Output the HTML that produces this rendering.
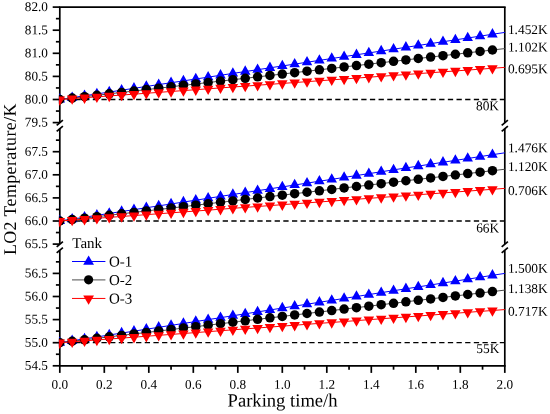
<!DOCTYPE html>
<html><head><meta charset="utf-8"><title>LO2 Temperature vs Parking time</title>
<style>html,body{margin:0;padding:0;background:#fff}body{width:550px;height:414px;overflow:hidden}</style></head>
<body>
<svg width="550" height="414" viewBox="0 0 550 414" style="display:block;text-rendering:geometricPrecision">
<rect width="550" height="414" fill="#fff"/>
<defs><clipPath id="plot"><rect x="58.90" y="0" width="446.80" height="414"/></clipPath></defs>
<g stroke="#000" stroke-width="1.7" fill="none">
<line x1="58.95" y1="7.1" x2="505.65" y2="7.1"/>
<line x1="58.95" y1="365.80" x2="505.65" y2="365.80"/>
<line x1="59.80" y1="7.10" x2="59.80" y2="122.60"/>
<line x1="504.80" y1="7.10" x2="504.80" y2="122.60"/>
<line x1="52.70" y1="7.10" x2="59.80" y2="7.10"/>
<line x1="55.90" y1="18.65" x2="59.80" y2="18.65"/>
<line x1="52.70" y1="30.20" x2="59.80" y2="30.20"/>
<line x1="55.90" y1="41.75" x2="59.80" y2="41.75"/>
<line x1="52.70" y1="53.30" x2="59.80" y2="53.30"/>
<line x1="55.90" y1="64.85" x2="59.80" y2="64.85"/>
<line x1="52.70" y1="76.40" x2="59.80" y2="76.40"/>
<line x1="55.90" y1="87.95" x2="59.80" y2="87.95"/>
<line x1="52.70" y1="99.50" x2="59.80" y2="99.50"/>
<line x1="55.90" y1="111.05" x2="59.80" y2="111.05"/>
<line x1="52.70" y1="122.60" x2="59.80" y2="122.60"/>
<line x1="59.80" y1="128.60" x2="59.80" y2="244.10"/>
<line x1="504.80" y1="128.60" x2="504.80" y2="244.10"/>
<line x1="55.90" y1="140.15" x2="59.80" y2="140.15"/>
<line x1="52.70" y1="151.70" x2="59.80" y2="151.70"/>
<line x1="55.90" y1="163.25" x2="59.80" y2="163.25"/>
<line x1="52.70" y1="174.80" x2="59.80" y2="174.80"/>
<line x1="55.90" y1="186.35" x2="59.80" y2="186.35"/>
<line x1="52.70" y1="197.90" x2="59.80" y2="197.90"/>
<line x1="55.90" y1="209.45" x2="59.80" y2="209.45"/>
<line x1="52.70" y1="221.00" x2="59.80" y2="221.00"/>
<line x1="55.90" y1="232.55" x2="59.80" y2="232.55"/>
<line x1="52.70" y1="244.10" x2="59.80" y2="244.10"/>
<line x1="59.80" y1="250.30" x2="59.80" y2="365.80"/>
<line x1="504.80" y1="250.30" x2="504.80" y2="365.80"/>
<line x1="55.90" y1="261.85" x2="59.80" y2="261.85"/>
<line x1="52.70" y1="273.40" x2="59.80" y2="273.40"/>
<line x1="55.90" y1="284.95" x2="59.80" y2="284.95"/>
<line x1="52.70" y1="296.50" x2="59.80" y2="296.50"/>
<line x1="55.90" y1="308.05" x2="59.80" y2="308.05"/>
<line x1="52.70" y1="319.60" x2="59.80" y2="319.60"/>
<line x1="55.90" y1="331.15" x2="59.80" y2="331.15"/>
<line x1="52.70" y1="342.70" x2="59.80" y2="342.70"/>
<line x1="55.90" y1="354.25" x2="59.80" y2="354.25"/>
<line x1="52.70" y1="365.80" x2="59.80" y2="365.80"/>
<line x1="56.70" y1="125.30" x2="62.90" y2="120.10"/>
<line x1="56.70" y1="131.40" x2="62.90" y2="126.20"/>
<line x1="501.70" y1="125.30" x2="507.90" y2="120.10"/>
<line x1="501.70" y1="131.40" x2="507.90" y2="126.20"/>
<line x1="56.70" y1="246.80" x2="62.90" y2="241.60"/>
<line x1="56.70" y1="252.90" x2="62.90" y2="247.70"/>
<line x1="501.70" y1="246.80" x2="507.90" y2="241.60"/>
<line x1="501.70" y1="252.90" x2="507.90" y2="247.70"/>
<line x1="59.80" y1="365.80" x2="59.80" y2="372.90"/>
<line x1="82.05" y1="365.80" x2="82.05" y2="369.70"/>
<line x1="104.30" y1="365.80" x2="104.30" y2="372.90"/>
<line x1="126.55" y1="365.80" x2="126.55" y2="369.70"/>
<line x1="148.80" y1="365.80" x2="148.80" y2="372.90"/>
<line x1="171.05" y1="365.80" x2="171.05" y2="369.70"/>
<line x1="193.30" y1="365.80" x2="193.30" y2="372.90"/>
<line x1="215.55" y1="365.80" x2="215.55" y2="369.70"/>
<line x1="237.80" y1="365.80" x2="237.80" y2="372.90"/>
<line x1="260.05" y1="365.80" x2="260.05" y2="369.70"/>
<line x1="282.30" y1="365.80" x2="282.30" y2="372.90"/>
<line x1="304.55" y1="365.80" x2="304.55" y2="369.70"/>
<line x1="326.80" y1="365.80" x2="326.80" y2="372.90"/>
<line x1="349.05" y1="365.80" x2="349.05" y2="369.70"/>
<line x1="371.30" y1="365.80" x2="371.30" y2="372.90"/>
<line x1="393.55" y1="365.80" x2="393.55" y2="369.70"/>
<line x1="415.80" y1="365.80" x2="415.80" y2="372.90"/>
<line x1="438.05" y1="365.80" x2="438.05" y2="369.70"/>
<line x1="460.30" y1="365.80" x2="460.30" y2="372.90"/>
<line x1="482.55" y1="365.80" x2="482.55" y2="369.70"/>
<line x1="504.80" y1="365.80" x2="504.80" y2="372.90"/>
</g>
<g clip-path="url(#plot)">
<line x1="59.8" y1="99.50" x2="504.8" y2="99.50" stroke="#000" stroke-width="1.3" stroke-dasharray="5.3 3.36" stroke-dashoffset="1.66"/>
<line x1="59.8" y1="99.50" x2="504.8" y2="32.42" stroke="#0000ff" stroke-width="1"/>
<path d="M59.80 93.30L65.05 102.60L54.55 102.60ZM72.16 91.44L77.41 100.74L66.91 100.74ZM84.52 89.57L89.77 98.87L79.27 98.87ZM96.88 87.71L102.13 97.01L91.63 97.01ZM109.24 85.85L114.49 95.15L103.99 95.15ZM121.61 83.98L126.86 93.28L116.36 93.28ZM133.97 82.12L139.22 91.42L128.72 91.42ZM146.33 80.26L151.58 89.56L141.08 89.56ZM158.69 78.39L163.94 87.69L153.44 87.69ZM171.05 76.53L176.30 85.83L165.80 85.83ZM183.41 74.67L188.66 83.97L178.16 83.97ZM195.77 72.80L201.02 82.10L190.52 82.10ZM208.13 70.94L213.38 80.24L202.88 80.24ZM220.49 69.08L225.74 78.38L215.24 78.38ZM232.86 67.21L238.11 76.51L227.61 76.51ZM245.22 65.35L250.47 74.65L239.97 74.65ZM257.58 63.49L262.83 72.79L252.33 72.79ZM269.94 61.62L275.19 70.92L264.69 70.92ZM282.30 59.76L287.55 69.06L277.05 69.06ZM294.66 57.90L299.91 67.20L289.41 67.20ZM307.02 56.03L312.27 65.33L301.77 65.33ZM319.38 54.17L324.63 63.47L314.13 63.47ZM331.74 52.31L336.99 61.61L326.49 61.61ZM344.11 50.44L349.36 59.74L338.86 59.74ZM356.47 48.58L361.72 57.88L351.22 57.88ZM368.83 46.71L374.08 56.01L363.58 56.01ZM381.19 44.85L386.44 54.15L375.94 54.15ZM393.55 42.99L398.80 52.29L388.30 52.29ZM405.91 41.12L411.16 50.42L400.66 50.42ZM418.27 39.26L423.52 48.56L413.02 48.56ZM430.63 37.40L435.88 46.70L425.38 46.70ZM442.99 35.53L448.24 44.83L437.74 44.83ZM455.36 33.67L460.61 42.97L450.11 42.97ZM467.72 31.81L472.97 41.11L462.47 41.11ZM480.08 29.94L485.33 39.24L474.83 39.24ZM492.44 28.08L497.69 37.38L487.19 37.38Z" fill="#0000ff"/>
<line x1="59.8" y1="99.50" x2="504.8" y2="48.59" stroke="#4a4a4a" stroke-width="1"/>
<circle cx="59.80" cy="99.50" r="4.75" fill="#000"/>
<circle cx="72.16" cy="98.09" r="4.75" fill="#000"/>
<circle cx="84.52" cy="96.67" r="4.75" fill="#000"/>
<circle cx="96.88" cy="95.26" r="4.75" fill="#000"/>
<circle cx="109.24" cy="93.84" r="4.75" fill="#000"/>
<circle cx="121.61" cy="92.43" r="4.75" fill="#000"/>
<circle cx="133.97" cy="91.01" r="4.75" fill="#000"/>
<circle cx="146.33" cy="89.60" r="4.75" fill="#000"/>
<circle cx="158.69" cy="88.19" r="4.75" fill="#000"/>
<circle cx="171.05" cy="86.77" r="4.75" fill="#000"/>
<circle cx="183.41" cy="85.36" r="4.75" fill="#000"/>
<circle cx="195.77" cy="83.94" r="4.75" fill="#000"/>
<circle cx="208.13" cy="82.53" r="4.75" fill="#000"/>
<circle cx="220.49" cy="81.11" r="4.75" fill="#000"/>
<circle cx="232.86" cy="79.70" r="4.75" fill="#000"/>
<circle cx="245.22" cy="78.29" r="4.75" fill="#000"/>
<circle cx="257.58" cy="76.87" r="4.75" fill="#000"/>
<circle cx="269.94" cy="75.46" r="4.75" fill="#000"/>
<circle cx="282.30" cy="74.04" r="4.75" fill="#000"/>
<circle cx="294.66" cy="72.63" r="4.75" fill="#000"/>
<circle cx="307.02" cy="71.22" r="4.75" fill="#000"/>
<circle cx="319.38" cy="69.80" r="4.75" fill="#000"/>
<circle cx="331.74" cy="68.39" r="4.75" fill="#000"/>
<circle cx="344.11" cy="66.97" r="4.75" fill="#000"/>
<circle cx="356.47" cy="65.56" r="4.75" fill="#000"/>
<circle cx="368.83" cy="64.14" r="4.75" fill="#000"/>
<circle cx="381.19" cy="62.73" r="4.75" fill="#000"/>
<circle cx="393.55" cy="61.32" r="4.75" fill="#000"/>
<circle cx="405.91" cy="59.90" r="4.75" fill="#000"/>
<circle cx="418.27" cy="58.49" r="4.75" fill="#000"/>
<circle cx="430.63" cy="57.07" r="4.75" fill="#000"/>
<circle cx="442.99" cy="55.66" r="4.75" fill="#000"/>
<circle cx="455.36" cy="54.24" r="4.75" fill="#000"/>
<circle cx="467.72" cy="52.83" r="4.75" fill="#000"/>
<circle cx="480.08" cy="51.42" r="4.75" fill="#000"/>
<circle cx="492.44" cy="50.00" r="4.75" fill="#000"/>
<line x1="59.8" y1="99.50" x2="504.8" y2="67.39" stroke="#ff0000" stroke-width="1"/>
<path d="M59.80 105.70L65.05 96.40L54.55 96.40ZM72.16 104.81L77.41 95.51L66.91 95.51ZM84.52 103.92L89.77 94.62L79.27 94.62ZM96.88 103.02L102.13 93.72L91.63 93.72ZM109.24 102.13L114.49 92.83L103.99 92.83ZM121.61 101.24L126.86 91.94L116.36 91.94ZM133.97 100.35L139.22 91.05L128.72 91.05ZM146.33 99.46L151.58 90.16L141.08 90.16ZM158.69 98.56L163.94 89.26L153.44 89.26ZM171.05 97.67L176.30 88.37L165.80 88.37ZM183.41 96.78L188.66 87.48L178.16 87.48ZM195.77 95.89L201.02 86.59L190.52 86.59ZM208.13 95.00L213.38 85.70L202.88 85.70ZM220.49 94.11L225.74 84.81L215.24 84.81ZM232.86 93.21L238.11 83.91L227.61 83.91ZM245.22 92.32L250.47 83.02L239.97 83.02ZM257.58 91.43L262.83 82.13L252.33 82.13ZM269.94 90.54L275.19 81.24L264.69 81.24ZM282.30 89.65L287.55 80.35L277.05 80.35ZM294.66 88.75L299.91 79.45L289.41 79.45ZM307.02 87.86L312.27 78.56L301.77 78.56ZM319.38 86.97L324.63 77.67L314.13 77.67ZM331.74 86.08L336.99 76.78L326.49 76.78ZM344.11 85.19L349.36 75.89L338.86 75.89ZM356.47 84.29L361.72 74.99L351.22 74.99ZM368.83 83.40L374.08 74.10L363.58 74.10ZM381.19 82.51L386.44 73.21L375.94 73.21ZM393.55 81.62L398.80 72.32L388.30 72.32ZM405.91 80.73L411.16 71.43L400.66 71.43ZM418.27 79.83L423.52 70.53L413.02 70.53ZM430.63 78.94L435.88 69.64L425.38 69.64ZM442.99 78.05L448.24 68.75L437.74 68.75ZM455.36 77.16L460.61 67.86L450.11 67.86ZM467.72 76.27L472.97 66.97L462.47 66.97ZM480.08 75.37L485.33 66.07L474.83 66.07ZM492.44 74.48L497.69 65.18L487.19 65.18Z" fill="#ff0000"/>
<line x1="59.8" y1="221.00" x2="504.8" y2="221.00" stroke="#000" stroke-width="1.55" stroke-dasharray="5.3 3.36" stroke-dashoffset="1.66"/>
<line x1="59.8" y1="221.00" x2="504.8" y2="152.81" stroke="#0000ff" stroke-width="1"/>
<path d="M59.80 214.80L65.05 224.10L54.55 224.10ZM72.16 212.91L77.41 222.21L66.91 222.21ZM84.52 211.01L89.77 220.31L79.27 220.31ZM96.88 209.12L102.13 218.42L91.63 218.42ZM109.24 207.22L114.49 216.52L103.99 216.52ZM121.61 205.33L126.86 214.63L116.36 214.63ZM133.97 203.43L139.22 212.73L128.72 212.73ZM146.33 201.54L151.58 210.84L141.08 210.84ZM158.69 199.65L163.94 208.95L153.44 208.95ZM171.05 197.75L176.30 207.05L165.80 207.05ZM183.41 195.86L188.66 205.16L178.16 205.16ZM195.77 193.96L201.02 203.26L190.52 203.26ZM208.13 192.07L213.38 201.37L202.88 201.37ZM220.49 190.18L225.74 199.48L215.24 199.48ZM232.86 188.28L238.11 197.58L227.61 197.58ZM245.22 186.39L250.47 195.69L239.97 195.69ZM257.58 184.49L262.83 193.79L252.33 193.79ZM269.94 182.60L275.19 191.90L264.69 191.90ZM282.30 180.70L287.55 190.00L277.05 190.00ZM294.66 178.81L299.91 188.11L289.41 188.11ZM307.02 176.92L312.27 186.22L301.77 186.22ZM319.38 175.02L324.63 184.32L314.13 184.32ZM331.74 173.13L336.99 182.43L326.49 182.43ZM344.11 171.23L349.36 180.53L338.86 180.53ZM356.47 169.34L361.72 178.64L351.22 178.64ZM368.83 167.44L374.08 176.74L363.58 176.74ZM381.19 165.55L386.44 174.85L375.94 174.85ZM393.55 163.66L398.80 172.96L388.30 172.96ZM405.91 161.76L411.16 171.06L400.66 171.06ZM418.27 159.87L423.52 169.17L413.02 169.17ZM430.63 157.97L435.88 167.27L425.38 167.27ZM442.99 156.08L448.24 165.38L437.74 165.38ZM455.36 154.19L460.61 163.49L450.11 163.49ZM467.72 152.29L472.97 161.59L462.47 161.59ZM480.08 150.40L485.33 159.70L474.83 159.70ZM492.44 148.50L497.69 157.80L487.19 157.80Z" fill="#0000ff"/>
<line x1="59.8" y1="221.00" x2="504.8" y2="169.26" stroke="#4a4a4a" stroke-width="1"/>
<circle cx="59.80" cy="221.00" r="4.75" fill="#000"/>
<circle cx="72.16" cy="219.56" r="4.75" fill="#000"/>
<circle cx="84.52" cy="218.13" r="4.75" fill="#000"/>
<circle cx="96.88" cy="216.69" r="4.75" fill="#000"/>
<circle cx="109.24" cy="215.25" r="4.75" fill="#000"/>
<circle cx="121.61" cy="213.81" r="4.75" fill="#000"/>
<circle cx="133.97" cy="212.38" r="4.75" fill="#000"/>
<circle cx="146.33" cy="210.94" r="4.75" fill="#000"/>
<circle cx="158.69" cy="209.50" r="4.75" fill="#000"/>
<circle cx="171.05" cy="208.06" r="4.75" fill="#000"/>
<circle cx="183.41" cy="206.63" r="4.75" fill="#000"/>
<circle cx="195.77" cy="205.19" r="4.75" fill="#000"/>
<circle cx="208.13" cy="203.75" r="4.75" fill="#000"/>
<circle cx="220.49" cy="202.31" r="4.75" fill="#000"/>
<circle cx="232.86" cy="200.88" r="4.75" fill="#000"/>
<circle cx="245.22" cy="199.44" r="4.75" fill="#000"/>
<circle cx="257.58" cy="198.00" r="4.75" fill="#000"/>
<circle cx="269.94" cy="196.57" r="4.75" fill="#000"/>
<circle cx="282.30" cy="195.13" r="4.75" fill="#000"/>
<circle cx="294.66" cy="193.69" r="4.75" fill="#000"/>
<circle cx="307.02" cy="192.25" r="4.75" fill="#000"/>
<circle cx="319.38" cy="190.82" r="4.75" fill="#000"/>
<circle cx="331.74" cy="189.38" r="4.75" fill="#000"/>
<circle cx="344.11" cy="187.94" r="4.75" fill="#000"/>
<circle cx="356.47" cy="186.50" r="4.75" fill="#000"/>
<circle cx="368.83" cy="185.07" r="4.75" fill="#000"/>
<circle cx="381.19" cy="183.63" r="4.75" fill="#000"/>
<circle cx="393.55" cy="182.19" r="4.75" fill="#000"/>
<circle cx="405.91" cy="180.75" r="4.75" fill="#000"/>
<circle cx="418.27" cy="179.32" r="4.75" fill="#000"/>
<circle cx="430.63" cy="177.88" r="4.75" fill="#000"/>
<circle cx="442.99" cy="176.44" r="4.75" fill="#000"/>
<circle cx="455.36" cy="175.01" r="4.75" fill="#000"/>
<circle cx="467.72" cy="173.57" r="4.75" fill="#000"/>
<circle cx="480.08" cy="172.13" r="4.75" fill="#000"/>
<circle cx="492.44" cy="170.69" r="4.75" fill="#000"/>
<line x1="59.8" y1="221.00" x2="504.8" y2="188.38" stroke="#ff0000" stroke-width="1"/>
<path d="M59.80 227.20L65.05 217.90L54.55 217.90ZM72.16 226.29L77.41 216.99L66.91 216.99ZM84.52 225.39L89.77 216.09L79.27 216.09ZM96.88 224.48L102.13 215.18L91.63 215.18ZM109.24 223.58L114.49 214.28L103.99 214.28ZM121.61 222.67L126.86 213.37L116.36 213.37ZM133.97 221.76L139.22 212.46L128.72 212.46ZM146.33 220.86L151.58 211.56L141.08 211.56ZM158.69 219.95L163.94 210.65L153.44 210.65ZM171.05 219.05L176.30 209.75L165.80 209.75ZM183.41 218.14L188.66 208.84L178.16 208.84ZM195.77 217.23L201.02 207.93L190.52 207.93ZM208.13 216.33L213.38 207.03L202.88 207.03ZM220.49 215.42L225.74 206.12L215.24 206.12ZM232.86 214.52L238.11 205.22L227.61 205.22ZM245.22 213.61L250.47 204.31L239.97 204.31ZM257.58 212.70L262.83 203.40L252.33 203.40ZM269.94 211.80L275.19 202.50L264.69 202.50ZM282.30 210.89L287.55 201.59L277.05 201.59ZM294.66 209.99L299.91 200.69L289.41 200.69ZM307.02 209.08L312.27 199.78L301.77 199.78ZM319.38 208.17L324.63 198.87L314.13 198.87ZM331.74 207.27L336.99 197.97L326.49 197.97ZM344.11 206.36L349.36 197.06L338.86 197.06ZM356.47 205.46L361.72 196.16L351.22 196.16ZM368.83 204.55L374.08 195.25L363.58 195.25ZM381.19 203.64L386.44 194.34L375.94 194.34ZM393.55 202.74L398.80 193.44L388.30 193.44ZM405.91 201.83L411.16 192.53L400.66 192.53ZM418.27 200.93L423.52 191.63L413.02 191.63ZM430.63 200.02L435.88 190.72L425.38 190.72ZM442.99 199.11L448.24 189.81L437.74 189.81ZM455.36 198.21L460.61 188.91L450.11 188.91ZM467.72 197.30L472.97 188.00L462.47 188.00ZM480.08 196.39L485.33 187.09L474.83 187.09ZM492.44 195.49L497.69 186.19L487.19 186.19Z" fill="#ff0000"/>
<line x1="59.8" y1="342.70" x2="504.8" y2="342.70" stroke="#000" stroke-width="1.25" stroke-dasharray="5.3 3.36" stroke-dashoffset="1.66"/>
<line x1="59.8" y1="342.70" x2="504.8" y2="273.40" stroke="#0000ff" stroke-width="1"/>
<path d="M59.80 336.50L65.05 345.80L54.55 345.80ZM72.16 334.58L77.41 343.88L66.91 343.88ZM84.52 332.65L89.77 341.95L79.27 341.95ZM96.88 330.73L102.13 340.03L91.63 340.03ZM109.24 328.80L114.49 338.10L103.99 338.10ZM121.61 326.87L126.86 336.17L116.36 336.17ZM133.97 324.95L139.22 334.25L128.72 334.25ZM146.33 323.03L151.58 332.33L141.08 332.33ZM158.69 321.10L163.94 330.40L153.44 330.40ZM171.05 319.18L176.30 328.48L165.80 328.48ZM183.41 317.25L188.66 326.55L178.16 326.55ZM195.77 315.32L201.02 324.62L190.52 324.62ZM208.13 313.40L213.38 322.70L202.88 322.70ZM220.49 311.48L225.74 320.78L215.24 320.78ZM232.86 309.55L238.11 318.85L227.61 318.85ZM245.22 307.63L250.47 316.93L239.97 316.93ZM257.58 305.70L262.83 315.00L252.33 315.00ZM269.94 303.77L275.19 313.07L264.69 313.07ZM282.30 301.85L287.55 311.15L277.05 311.15ZM294.66 299.93L299.91 309.23L289.41 309.23ZM307.02 298.00L312.27 307.30L301.77 307.30ZM319.38 296.08L324.63 305.38L314.13 305.38ZM331.74 294.15L336.99 303.45L326.49 303.45ZM344.11 292.22L349.36 301.52L338.86 301.52ZM356.47 290.30L361.72 299.60L351.22 299.60ZM368.83 288.38L374.08 297.68L363.58 297.68ZM381.19 286.45L386.44 295.75L375.94 295.75ZM393.55 284.53L398.80 293.83L388.30 293.83ZM405.91 282.60L411.16 291.90L400.66 291.90ZM418.27 280.67L423.52 289.97L413.02 289.97ZM430.63 278.75L435.88 288.05L425.38 288.05ZM442.99 276.83L448.24 286.13L437.74 286.13ZM455.36 274.90L460.61 284.20L450.11 284.20ZM467.72 272.98L472.97 282.28L462.47 282.28ZM480.08 271.05L485.33 280.35L474.83 280.35ZM492.44 269.12L497.69 278.42L487.19 278.42Z" fill="#0000ff"/>
<line x1="59.8" y1="342.70" x2="504.8" y2="290.12" stroke="#4a4a4a" stroke-width="1"/>
<circle cx="59.80" cy="342.70" r="4.75" fill="#000"/>
<circle cx="72.16" cy="341.24" r="4.75" fill="#000"/>
<circle cx="84.52" cy="339.78" r="4.75" fill="#000"/>
<circle cx="96.88" cy="338.32" r="4.75" fill="#000"/>
<circle cx="109.24" cy="336.86" r="4.75" fill="#000"/>
<circle cx="121.61" cy="335.40" r="4.75" fill="#000"/>
<circle cx="133.97" cy="333.94" r="4.75" fill="#000"/>
<circle cx="146.33" cy="332.48" r="4.75" fill="#000"/>
<circle cx="158.69" cy="331.02" r="4.75" fill="#000"/>
<circle cx="171.05" cy="329.56" r="4.75" fill="#000"/>
<circle cx="183.41" cy="328.10" r="4.75" fill="#000"/>
<circle cx="195.77" cy="326.64" r="4.75" fill="#000"/>
<circle cx="208.13" cy="325.17" r="4.75" fill="#000"/>
<circle cx="220.49" cy="323.71" r="4.75" fill="#000"/>
<circle cx="232.86" cy="322.25" r="4.75" fill="#000"/>
<circle cx="245.22" cy="320.79" r="4.75" fill="#000"/>
<circle cx="257.58" cy="319.33" r="4.75" fill="#000"/>
<circle cx="269.94" cy="317.87" r="4.75" fill="#000"/>
<circle cx="282.30" cy="316.41" r="4.75" fill="#000"/>
<circle cx="294.66" cy="314.95" r="4.75" fill="#000"/>
<circle cx="307.02" cy="313.49" r="4.75" fill="#000"/>
<circle cx="319.38" cy="312.03" r="4.75" fill="#000"/>
<circle cx="331.74" cy="310.57" r="4.75" fill="#000"/>
<circle cx="344.11" cy="309.11" r="4.75" fill="#000"/>
<circle cx="356.47" cy="307.65" r="4.75" fill="#000"/>
<circle cx="368.83" cy="306.19" r="4.75" fill="#000"/>
<circle cx="381.19" cy="304.73" r="4.75" fill="#000"/>
<circle cx="393.55" cy="303.27" r="4.75" fill="#000"/>
<circle cx="405.91" cy="301.81" r="4.75" fill="#000"/>
<circle cx="418.27" cy="300.35" r="4.75" fill="#000"/>
<circle cx="430.63" cy="298.89" r="4.75" fill="#000"/>
<circle cx="442.99" cy="297.43" r="4.75" fill="#000"/>
<circle cx="455.36" cy="295.97" r="4.75" fill="#000"/>
<circle cx="467.72" cy="294.51" r="4.75" fill="#000"/>
<circle cx="480.08" cy="293.05" r="4.75" fill="#000"/>
<circle cx="492.44" cy="291.58" r="4.75" fill="#000"/>
<line x1="59.8" y1="342.70" x2="504.8" y2="309.57" stroke="#ff0000" stroke-width="1"/>
<path d="M59.80 348.90L65.05 339.60L54.55 339.60ZM72.16 347.98L77.41 338.68L66.91 338.68ZM84.52 347.06L89.77 337.76L79.27 337.76ZM96.88 346.14L102.13 336.84L91.63 336.84ZM109.24 345.22L114.49 335.92L103.99 335.92ZM121.61 344.30L126.86 335.00L116.36 335.00ZM133.97 343.38L139.22 334.08L128.72 334.08ZM146.33 342.46L151.58 333.16L141.08 333.16ZM158.69 341.54L163.94 332.24L153.44 332.24ZM171.05 340.62L176.30 331.32L165.80 331.32ZM183.41 339.70L188.66 330.40L178.16 330.40ZM195.77 338.78L201.02 329.48L190.52 329.48ZM208.13 337.86L213.38 328.56L202.88 328.56ZM220.49 336.94L225.74 327.64L215.24 327.64ZM232.86 336.02L238.11 326.72L227.61 326.72ZM245.22 335.10L250.47 325.80L239.97 325.80ZM257.58 334.18L262.83 324.88L252.33 324.88ZM269.94 333.26L275.19 323.96L264.69 323.96ZM282.30 332.34L287.55 323.04L277.05 323.04ZM294.66 331.42L299.91 322.12L289.41 322.12ZM307.02 330.50L312.27 321.20L301.77 321.20ZM319.38 329.58L324.63 320.28L314.13 320.28ZM331.74 328.66L336.99 319.36L326.49 319.36ZM344.11 327.74L349.36 318.44L338.86 318.44ZM356.47 326.82L361.72 317.52L351.22 317.52ZM368.83 325.90L374.08 316.60L363.58 316.60ZM381.19 324.98L386.44 315.68L375.94 315.68ZM393.55 324.06L398.80 314.76L388.30 314.76ZM405.91 323.14L411.16 313.84L400.66 313.84ZM418.27 322.22L423.52 312.92L413.02 312.92ZM430.63 321.30L435.88 312.00L425.38 312.00ZM442.99 320.38L448.24 311.08L437.74 311.08ZM455.36 319.46L460.61 310.16L450.11 310.16ZM467.72 318.54L472.97 309.24L462.47 309.24ZM480.08 317.61L485.33 308.31L474.83 308.31ZM492.44 316.69L497.69 307.39L487.19 307.39Z" fill="#ff0000"/>
</g>
<g font-family="'Liberation Serif', 'Times New Roman', serif" font-size="13.2" fill="#000">
<text x="47.90" y="11.10" text-anchor="end" transform="rotate(0.05 47.90 11.10)">82.0</text>
<text x="47.90" y="34.20" text-anchor="end" transform="rotate(0.05 47.90 34.20)">81.5</text>
<text x="47.90" y="57.30" text-anchor="end" transform="rotate(0.05 47.90 57.30)">81.0</text>
<text x="47.90" y="80.40" text-anchor="end" transform="rotate(0.05 47.90 80.40)">80.5</text>
<text x="47.90" y="103.50" text-anchor="end" transform="rotate(0.05 47.90 103.50)">80.0</text>
<text x="47.90" y="126.60" text-anchor="end" transform="rotate(0.05 47.90 126.60)">79.5</text>
<text x="47.90" y="155.70" text-anchor="end" transform="rotate(0.05 47.90 155.70)">67.5</text>
<text x="47.90" y="178.80" text-anchor="end" transform="rotate(0.05 47.90 178.80)">67.0</text>
<text x="47.90" y="201.90" text-anchor="end" transform="rotate(0.05 47.90 201.90)">66.5</text>
<text x="47.90" y="225.00" text-anchor="end" transform="rotate(0.05 47.90 225.00)">66.0</text>
<text x="47.90" y="248.10" text-anchor="end" transform="rotate(0.05 47.90 248.10)">65.5</text>
<text x="47.90" y="277.40" text-anchor="end" transform="rotate(0.05 47.90 277.40)">56.5</text>
<text x="47.90" y="300.50" text-anchor="end" transform="rotate(0.05 47.90 300.50)">56.0</text>
<text x="47.90" y="323.60" text-anchor="end" transform="rotate(0.05 47.90 323.60)">55.5</text>
<text x="47.90" y="346.70" text-anchor="end" transform="rotate(0.05 47.90 346.70)">55.0</text>
<text x="47.90" y="369.80" text-anchor="end" transform="rotate(0.05 47.90 369.80)">54.5</text>
<text x="59.80" y="388.80" text-anchor="middle" transform="rotate(0.05 59.80 388.80)">0.0</text>
<text x="104.30" y="388.80" text-anchor="middle" transform="rotate(0.05 104.30 388.80)">0.2</text>
<text x="148.80" y="388.80" text-anchor="middle" transform="rotate(0.05 148.80 388.80)">0.4</text>
<text x="193.30" y="388.80" text-anchor="middle" transform="rotate(0.05 193.30 388.80)">0.6</text>
<text x="237.80" y="388.80" text-anchor="middle" transform="rotate(0.05 237.80 388.80)">0.8</text>
<text x="282.30" y="388.80" text-anchor="middle" transform="rotate(0.05 282.30 388.80)">1.0</text>
<text x="326.80" y="388.80" text-anchor="middle" transform="rotate(0.05 326.80 388.80)">1.2</text>
<text x="371.30" y="388.80" text-anchor="middle" transform="rotate(0.05 371.30 388.80)">1.4</text>
<text x="415.80" y="388.80" text-anchor="middle" transform="rotate(0.05 415.80 388.80)">1.6</text>
<text x="460.30" y="388.80" text-anchor="middle" transform="rotate(0.05 460.30 388.80)">1.8</text>
<text x="504.80" y="388.80" text-anchor="middle" transform="rotate(0.05 504.80 388.80)">2.0</text>
</g>
<g font-family="'Liberation Serif', 'Times New Roman', serif" font-size="13.4" fill="#000">
<text x="507.90" y="34.00" transform="rotate(0.05 507.90 34.00)">1.452K</text>
<text x="507.90" y="51.40" transform="rotate(0.05 507.90 51.40)">1.102K</text>
<text x="507.90" y="73.20" transform="rotate(0.05 507.90 73.20)">0.695K</text>
<text x="499.00" y="110.20" text-anchor="end" transform="rotate(0.05 499.00 110.20)">80K</text>
<text x="507.90" y="152.30" transform="rotate(0.05 507.90 152.30)">1.476K</text>
<text x="507.90" y="171.00" transform="rotate(0.05 507.90 171.00)">1.120K</text>
<text x="507.90" y="194.90" transform="rotate(0.05 507.90 194.90)">0.706K</text>
<text x="499.20" y="232.40" text-anchor="end" transform="rotate(0.05 499.20 232.40)">66K</text>
<text x="507.90" y="272.80" transform="rotate(0.05 507.90 272.80)">1.500K</text>
<text x="507.90" y="293.00" transform="rotate(0.05 507.90 293.00)">1.138K</text>
<text x="507.90" y="315.70" transform="rotate(0.05 507.90 315.70)">0.717K</text>
<text x="499.40" y="353.10" text-anchor="end" transform="rotate(0.05 499.40 353.10)">55K</text>
</g>
<g font-family="'Liberation Serif', 'Times New Roman', serif" font-size="15" fill="#000">
<text x="72.30" y="248.00" transform="rotate(0.05 72.30 248.00)">Tank</text>
<line x1="72" y1="261.5" x2="105.4" y2="261.5" stroke="#0000ff" stroke-width="1.0"/>
<path d="M88.60 255.57L94.00 264.77L83.20 264.77Z" fill="#0000ff"/>
<text x="109.00" y="266.40" transform="rotate(0.05 109.00 266.40)">O-1</text>
<line x1="72" y1="279.8" x2="105.4" y2="279.8" stroke="#707070" stroke-width="1.25"/>
<circle cx="88.6" cy="279.8" r="4.6" fill="#000"/>
<text x="109.00" y="285.10" transform="rotate(0.05 109.00 285.10)">O-2</text>
<line x1="72" y1="298.45" x2="105.4" y2="298.45" stroke="#ff0000" stroke-width="1.0"/>
<path d="M88.60 304.63L94.00 295.43L83.20 295.43Z" fill="#ff0000"/>
<text x="109.00" y="303.60" transform="rotate(0.05 109.00 303.60)">O-3</text>
</g>
<text font-family="'Liberation Serif', 'Times New Roman', serif" font-size="18.6" x="282.6" y="406.5" text-anchor="middle" fill="#000" transform="rotate(0.05 282.6 406.5)">Parking time/h</text>
<text font-family="'Liberation Serif', 'Times New Roman', serif" font-size="17.9" textLength="151.6" lengthAdjust="spacing" transform="translate(15.9 179.3) rotate(-90.05)" text-anchor="middle" fill="#000">LO2 Temperature/K</text>
</svg>
</body></html>
